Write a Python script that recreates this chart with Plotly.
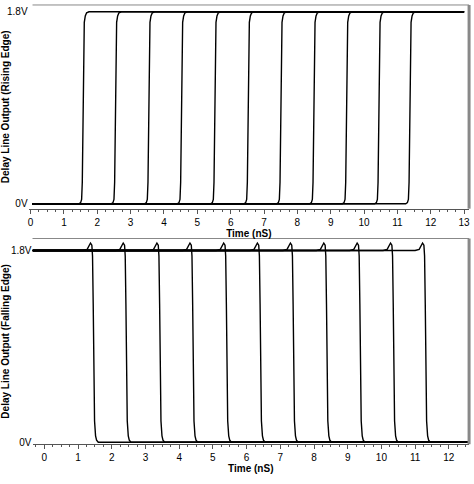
import plotly.graph_objects as go

rise_times = [1.55, 2.52, 3.52, 4.5, 5.5, 6.5, 7.48, 8.47, 9.45, 10.42, 11.35]
fall_times = [1.45, 2.42, 3.42, 4.4, 5.4, 6.4, 7.38, 8.37, 9.36, 10.35, 11.3]
rise_dt = [-0.1, -0.05, -0.02, 0.0, 0.02, 0.04, 0.06, 0.09, 0.13, 0.2]
rise_v = [0.0, 0.01, 0.04, 0.2, 0.9, 1.5, 1.7, 1.76, 1.79, 1.8]
fall_dt = [-0.3, -0.18, -0.12, -0.08, -0.04, -0.02, 0.0, 0.02, 0.04, 0.07, 0.1, 0.15]
fall_v = [1.8, 1.81, 1.85, 1.87, 1.85, 1.75, 1.3, 0.6, 0.2, 0.06, 0.02, 0.0]
top_start, top_end = 0.05, 13.0
bot_start, bot_end = -0.35, 12.6

fig = go.Figure()
for t in rise_times:
    xs = [top_start] + [t + d for d in rise_dt] + [top_end]
    ys = [0.0] + rise_v + [1.8]
    fig.add_trace(go.Scatter(x=xs, y=ys, mode="lines", line=dict(color="black", width=1.4), xaxis="x", yaxis="y", showlegend=False, hoverinfo="skip"))
for t in fall_times:
    xs = [bot_start] + [t + d for d in fall_dt] + [bot_end]
    ys = [1.8] + fall_v + [0.0]
    fig.add_trace(go.Scatter(x=xs, y=ys, mode="lines", line=dict(color="black", width=1.4), xaxis="x2", yaxis="y2", showlegend=False, hoverinfo="skip"))

f = dict(family="Arial, Liberation Sans", size=10, color="black")
xcommon = dict(showgrid=False, zeroline=False, ticks="outside", ticklen=4, tickcolor="#555",
               showline=True, linecolor="#555", tickfont=f, dtick=1, ticklabeloverflow="allow",
               minor=dict(ticks="outside", ticklen=2, dtick=0.25, tickcolor="#555"))
ycommon = dict(showgrid=False, zeroline=False, ticks="", showline=False, tickfont=f,
               tickvals=[0, 1.8], ticktext=["0V", "1.8V"])
fig.update_layout(
    width=474, height=484, margin=dict(l=0, r=0, t=0, b=0),
    paper_bgcolor="white", plot_bgcolor="white",
    xaxis=dict(xcommon, domain=[21/474, 470/474], range=[-0.06, 13.15], anchor="y",
               title=dict(text="<b>Time (nS)</b>", font=f, standoff=0)),
    yaxis=dict(ycommon, domain=[0.566, 0.99], range=[-0.047, 1.865], anchor="x",
               title=dict(text="<b>Delay Line Output (Rising Edge)</b>", font=f, standoff=0)),
    xaxis2=dict(xcommon, domain=[25/474, 470/474], range=[-0.35, 12.6], anchor="y2",
                title=dict(text="<b>Time (nS)</b>", font=f, standoff=0)),
    yaxis2=dict(ycommon, domain=[0.0764, 0.504], range=[-0.0187, 1.912], anchor="x2",
                title=dict(text="<b>Delay Line Output (Falling Edge)</b>", font=f, standoff=0)),
)
for yr in [(5, 210), (240, 447)]:
    fig.add_shape(type="line", xref="paper", yref="paper", x0=25/474, x1=470/474, y0=1-yr[0]/484, y1=1-yr[0]/484, line=dict(color="#888", width=1))
    fig.add_shape(type="line", xref="paper", yref="paper", x0=470/474, x1=470/474, y0=1-yr[0]/484, y1=1-yr[1]/484, line=dict(color="#888", width=3))
fig.write_html("out.html", config={"displayModeBar": False},
               post_script="document.body.style.margin='0';document.body.style.overflow='hidden';")
